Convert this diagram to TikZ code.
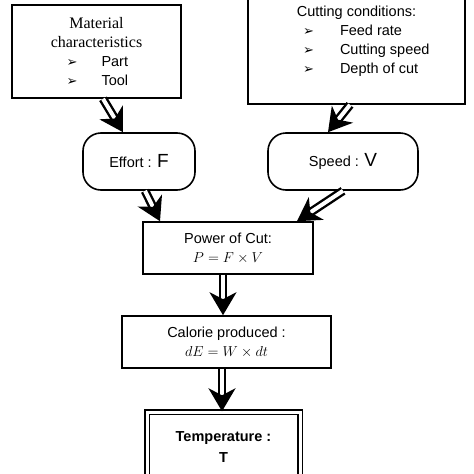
\documentclass[tikz,border=0pt]{standalone}
\usepackage{fontspec}
\setsansfont{Liberation Sans}
\newfontfamily\serif{Liberation Serif}
\newfontfamily\dingfont{DejaVu Sans}
\usetikzlibrary{arrows.meta}
\newcommand{\bul}{{\dingfont\fontsize{13}{13}\selectfont ➢}}
\newcommand{\mitem}[1]{\makebox[60pt][l]{\makebox[35pt][l]{\bul}#1}}
\newcommand{\citem}[1]{\makebox[107pt][l]{\makebox[37pt][l]{\bul}#1}}
\tikzstyle{box}=[draw, line width=1.6pt, align=center, font=\sffamily\fontsize{14.5}{19}\selectfont, inner sep=0pt]
\tikzstyle{pill}=[box, rounded corners=18pt]
\tikzstyle{fat>}=[double, double distance=4pt, line width=2.4pt, -{Stealth[length=23pt,width=27pt,inset=7pt]}]

\begin{document}
\begin{tikzpicture}[x=1pt,y=-1pt]
\useasboundingbox (0,0) rectangle (474,474);
\clip (0,0) rectangle (474,474);
\node[box, minimum width=169pt, minimum height=93pt] (mat) at (96.5,51.5)
	{{\serif\fontsize{16}{19}\selectfont Material}\\{\serif\fontsize{16}{19}\selectfont characteristics}\\\mitem{Part}\\\mitem{Tool}};
\node[box, minimum width=217pt, minimum height=125pt] (cut) at (356.5,41.5)
	{Cutting conditions:\\\citem{Feed rate}\\\citem{Cutting speed}\\\citem{Depth of cut}};
\node[pill, minimum width=112pt, minimum height=57pt] (eff) at (139,161.5) {Effort : {\fontsize{19}{19}\selectfont F}};
\node[pill, minimum width=150pt, minimum height=57pt] (spd) at (343,161.5) {Speed : {\fontsize{19}{19}\selectfont V}};
\node[box, minimum width=170pt, minimum height=52pt] (pow) at (228,248) {Power of Cut:\\$P=F\times V$};
\node[box, minimum width=209pt, minimum height=52pt] (cal) at (226.5,342) {Calorie produced :\\$dE=W\times dt$};
\node[box, double, double distance=3pt, minimum width=153pt, minimum height=70pt,
	font=\sffamily\bfseries\fontsize{14.5}{21}\selectfont] (tmp) at (223.5,447.1) {Temperature :\\T};
\draw[fat>] ([xshift=6.5pt]mat.south) -- ([xshift=-16pt]eff.north);
\draw[fat>] ([xshift=-6.5pt]cut.south) -- ([xshift=-15pt]spd.north);
\draw[fat>] ([xshift=6pt]eff.south) -- ([xshift=-68pt]pow.north);
\draw[fat>] (spd.south) -- ([xshift=69pt]pow.north);
\draw[fat>] ([xshift=-5pt]pow.south) -- ([xshift=-3.5pt]cal.north);
\draw[fat>] ([xshift=-4.5pt]cal.south) -- ([xshift=-1.5pt]tmp.north);
\end{tikzpicture}
\end{document}
